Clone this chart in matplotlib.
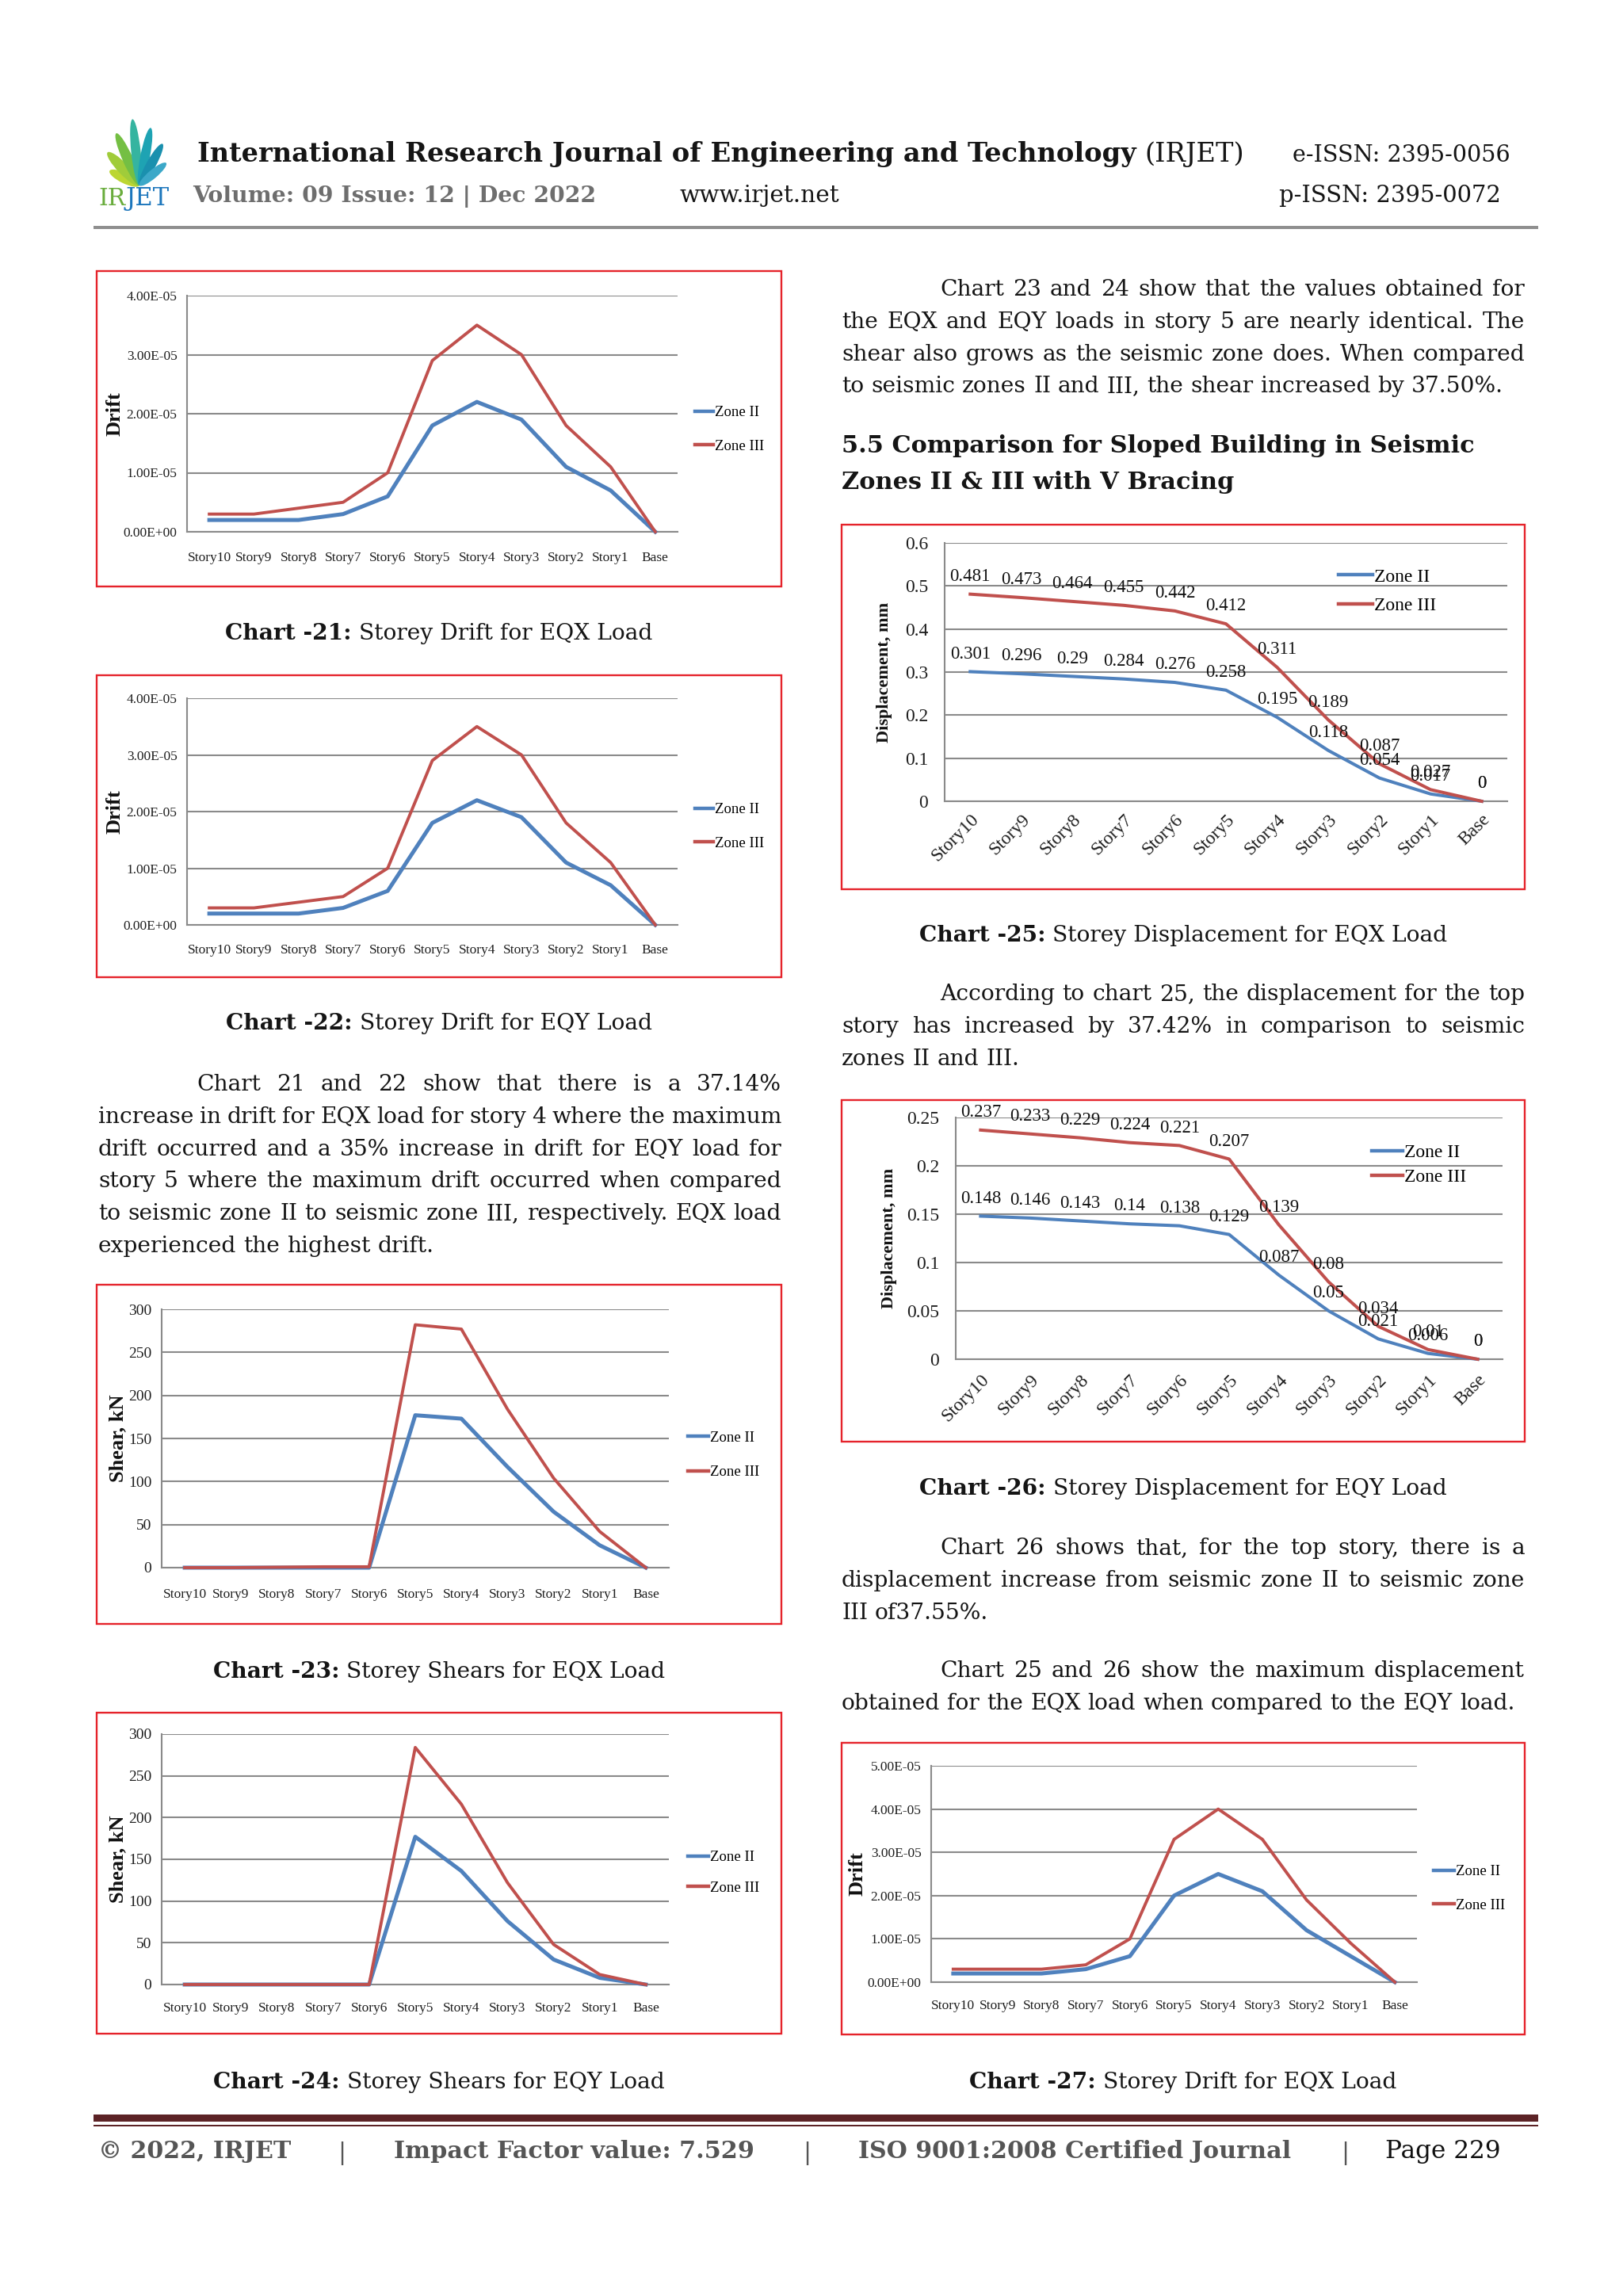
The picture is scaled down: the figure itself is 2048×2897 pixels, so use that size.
import numpy as np
import matplotlib.pyplot as plt
from matplotlib.patches import Rectangle, Ellipse
from matplotlib.lines import Line2D
from matplotlib.ticker import FuncFormatter

W, H = 2048, 2897

# ---- data read from the page ----
stories = ["Story10", "Story9", "Story8", "Story7", "Story6", "Story5",
           "Story4", "Story3", "Story2", "Story1", "Base"]
zones = ["Zone II", "Zone III"]

# Chart 21: storey drift, EQX
drift_eqx_z2 = [2e-6, 2e-6, 2e-6, 3e-6, 6e-6, 1.8e-5, 2.2e-5, 1.9e-5, 1.1e-5, 7e-6, 0]
drift_eqx_z3 = [3e-6, 3e-6, 4e-6, 5e-6, 1.0e-5, 2.9e-5, 3.5e-5, 3.0e-5, 1.8e-5, 1.1e-5, 0]
# Chart 22: storey drift, EQY
drift_eqy_z2 = [2e-6, 2e-6, 2e-6, 3e-6, 6e-6, 1.8e-5, 2.2e-5, 1.9e-5, 1.1e-5, 7e-6, 0]
drift_eqy_z3 = [3e-6, 3e-6, 4e-6, 5e-6, 1.0e-5, 2.9e-5, 3.5e-5, 3.0e-5, 1.8e-5, 1.1e-5, 0]
# Chart 23: storey shear, EQX (kN)
shear_eqx_z2 = [0, 0, 0, 0, 0, 177, 173, 117, 65, 26, 0]
shear_eqx_z3 = [0, 0, 0.5, 1, 1, 282, 277, 184, 104, 42, 0]
# Chart 24: storey shear, EQY (kN)
shear_eqy_z2 = [0, 0, 0, 0, 0, 177, 136, 76, 30, 8, 0]
shear_eqy_z3 = [0, 0, 0, 0, 0, 284, 216, 122, 48, 12, 0]
# Chart 25: storey displacement, EQX (mm)
disp_eqx_z2 = [0.301, 0.296, 0.29, 0.284, 0.276, 0.258, 0.195, 0.118, 0.054, 0.017, 0]
disp_eqx_z3 = [0.481, 0.473, 0.464, 0.455, 0.442, 0.412, 0.311, 0.189, 0.087, 0.027, 0]
# Chart 26: storey displacement, EQY (mm)
disp_eqy_z2 = [0.148, 0.146, 0.143, 0.14, 0.138, 0.129, 0.087, 0.05, 0.021, 0.006, 0]
disp_eqy_z3 = [0.237, 0.233, 0.229, 0.224, 0.221, 0.207, 0.139, 0.08, 0.034, 0.01, 0]
# Chart 27: storey drift, EQX (V bracing)
drift27_z2 = [2e-6, 2e-6, 2e-6, 3e-6, 6e-6, 2.0e-5, 2.5e-5, 2.1e-5, 1.2e-5, 6e-6, 0]
drift27_z3 = [3e-6, 3e-6, 3e-6, 4e-6, 1.0e-5, 3.3e-5, 4.0e-5, 3.3e-5, 1.9e-5, 9e-6, 0]

BLUE, RED = "#4F81BD", "#C0504D"
GRID = "#8A8A8A"
BORDER = "#E5232B"
INK = "#151515"
BODY = "DejaVu Serif"
XLS = "Liberation Serif"

fig = plt.figure(figsize=(W / 100, H / 100), dpi=100)
fig.patch.set_facecolor("white")
page = fig.add_axes([0, 0, 1, 1])
page.set_xlim(0, W)
page.set_ylim(H, 0)
page.axis("off")
rend = fig.canvas.get_renderer()


# ---- text helpers (page coordinates are pixels, y downwards) ----
def text(x, y, s, size, weight="normal", color=INK, family=BODY, ha="left"):
    return page.text(x, y, s, fontsize=size, fontweight=weight, color=color,
                     family=family, ha=ha, va="baseline")


def wid(t):
    return t.get_window_extent(rend).width


def space(size, weight="normal", family=BODY):
    a = text(0, 0, "a a", size, weight, family=family)
    b = text(0, 0, "aa", size, weight, family=family)
    w = wid(a) - wid(b)
    a.remove()
    b.remove()
    return w


def runs(x, y, parts, size, align="left", fit=None, family=BODY):
    ts = [text(0, y, s, size, wt, c, family) for s, wt, c in parts]
    if fit is not None:
        total = sum(wid(t) for t in ts) + space(size, family=family) * (len(ts) - 1)
        size = size * fit / total
        for t in ts:
            t.set_fontsize(size)
    sp = space(size, family=family)
    ws = [wid(t) for t in ts]
    total = sum(ws) + sp * (len(ts) - 1)
    x0 = x - total / 2 if align == "center" else x
    for t, w in zip(ts, ws):
        t.set_x(x0)
        x0 += w + sp
    return size


def paragraph(x0, x1, y, lines, size, indent, lead=40.8):
    sp = space(size)
    for i, ln in enumerate(lines):
        left = x0 + indent if i == 0 else x0
        ts = [text(0, y + i * lead, w, size) for w in ln.split()]
        ws = [wid(t) for t in ts]
        gap = sp
        if i < len(lines) - 1 and len(ts) > 1:
            gap = (x1 - left - sum(ws)) / (len(ts) - 1)
        xx = left
        for t, w in zip(ts, ws):
            t.set_x(xx)
            xx += w + gap


def sci(v, _):
    return f"{v:.2E}"


def gen(v, _):
    return f"{v:g}"


# ---- one Excel-style line chart in a red frame ----
def chart(box, area, z2, z3, ymax, nstep, fmt, ylabel, ylab_px, ylab_fs,
          tick_fs, xtick_fs, xpad, ypad, leg_x, leg_y, leg_pitch, leg_hl, leg_fs,
          lw=(3.6, 2.8), values=False, rot=0, val_fs=16):
    x0, y0, x1, y1 = box
    page.add_patch(Rectangle((x0, y0), x1 - x0, y1 - y0, fill=False, ec=BORDER, lw=1.7))
    l, t, r, b = area
    ax = fig.add_axes([l / W, 1 - b / H, (r - l) / W, (b - t) / H])
    ax.patch.set_alpha(0)
    xs = np.arange(len(stories))
    ax.plot(xs, z2, color=BLUE, lw=lw[0], clip_on=False, solid_joinstyle="round", zorder=3)
    ax.plot(xs, z3, color=RED, lw=lw[1], clip_on=False, solid_joinstyle="round", zorder=3)
    ax.set_xlim(-0.5, len(stories) - 0.5)
    ax.set_ylim(0, ymax)
    ax.set_yticks(np.linspace(0, ymax, nstep + 1))
    ax.yaxis.set_major_formatter(FuncFormatter(fmt))
    ax.grid(axis="y", color=GRID, lw=1.5)
    ax.set_axisbelow(True)
    for s in ["top", "right"]:
        ax.spines[s].set_visible(False)
    for s in ["left", "bottom"]:
        ax.spines[s].set_color(GRID)
        ax.spines[s].set_linewidth(1.5)
    ax.tick_params(length=0)
    ax.tick_params(axis="y", labelsize=tick_fs, pad=ypad, labelcolor="#1E1E1E")
    ax.tick_params(axis="x", labelsize=xtick_fs, pad=xpad, labelcolor="#1E1E1E")
    if rot:
        ax.set_xticks(xs, stories, rotation=rot, ha="right", rotation_mode="anchor")
    else:
        ax.set_xticks(xs, stories)
    for lab in ax.get_xticklabels() + ax.get_yticklabels():
        lab.set_family(XLS)
    ax.set_ylabel(ylabel, fontsize=ylab_fs, fontweight="bold", family=XLS, color="#111111")
    ax.yaxis.set_label_coords((ylab_px - l) / (r - l), 0.5)
    if values:
        for series in (z2, z3):
            for i, v in enumerate(series):
                ax.annotate(f"{v:g}", (i, v), xytext=(0, 16), textcoords="offset points",
                            ha="center", va="center", fontsize=val_fs, family=XLS,
                            color="#111111")
    handles = [Line2D([], [], color=BLUE, lw=3.2), Line2D([], [], color=RED, lw=3.2)]
    ls = (leg_pitch / 1.389) / leg_fs - 1.15
    fig.legend(handles, zones, loc="center left", bbox_to_anchor=(leg_x / W, 1 - leg_y / H),
               frameon=False, handlelength=leg_hl, handletextpad=0.1, labelspacing=ls,
               borderpad=0, borderaxespad=0, prop={"family": XLS, "size": leg_fs})
    return ax


# ---- header ----
leaves = [(-64, 42, 13, "#BCD632"), (-44, 58, 14, "#A0CC3A"), (-24, 72, 13, "#74BF43"),
          (-6, 84, 12, "#35B4A0"), (11, 74, 12, "#1EA3B3"), (29, 60, 12, "#1A90AE"),
          (50, 44, 11, "#3CA8C8")]
bx, by = 176, 234
for a, L, w, c in leaves:
    ra = np.radians(a)
    page.add_patch(Ellipse((bx + L / 2 * np.sin(ra), by - L / 2 * np.cos(ra)), w, L,
                           angle=a, color=c, lw=0))
runs(124, 259, [("IR", "normal", "#69AC3C")], 18, fit=34)
runs(158, 259, [("JET", "normal", "#1C76BC")], 18, fit=55)

runs(249, 204, [("International Research Journal of Engineering and Technology", "bold", INK),
                ("(IRJET)", "normal", INK)], 28, fit=1572 - 249)
runs(1631, 204, [("e-ISSN: 2395-0056", "normal", INK)], 20, fit=1906 - 1631)
runs(243, 255, [("Volume: 09 Issue: 12 | Dec 2022", "bold", "#6E6E6E")], 20, fit=750 - 243)
runs(857, 255, [("www.irjet.net", "normal", INK)], 20, fit=1059 - 857)
runs(1614, 255, [("p-ISSN: 2395-0072", "normal", INK)], 20, fit=1894 - 1614)
page.add_patch(Rectangle((118, 285), 1823, 3.5, color="#8F8F8F", lw=0))

# ---- body text size taken from a caption width ----
fs = runs(554, 807, [("Chart -21:", "bold", INK), ("Storey Drift for EQX Load", "normal", INK)],
          16, align="center", fit=540)
captions = [
    (554, 1299, "Chart -22:", "Storey Drift for EQY Load"),
    (554, 2117, "Chart -23:", "Storey Shears for EQX Load"),
    (554, 2635, "Chart -24:", "Storey Shears for EQY Load"),
    (1493, 1188, "Chart -25:", "Storey Displacement for EQX Load"),
    (1493, 1886, "Chart -26:", "Storey Displacement for EQY Load"),
    (1493, 2635, "Chart -27:", "Storey Drift for EQX Load"),
]
for cx, cy, lab, rest in captions:
    runs(cx, cy, [(lab, "bold", INK), (rest, "normal", INK)], fs, align="center")

paragraph(124, 986, 1376, [
    "Chart 21 and 22 show that there is a 37.14%",
    "increase in drift for EQX load for story 4 where the maximum",
    "drift occurred and a 35% increase in drift for EQY load for",
    "story 5 where the maximum drift occurred when compared",
    "to seismic zone II to seismic zone III, respectively. EQX load",
    "experienced the highest drift.",
], fs, 248 - 124)

paragraph(1062, 1924, 373, [
    "Chart 23 and 24 show that the values obtained for",
    "the EQX and EQY loads in story 5 are nearly identical. The",
    "shear also grows as the seismic zone does. When compared",
    "to seismic zones II and III, the shear increased by 37.50%.",
], fs, 1186 - 1062)

hs = runs(1062, 571, [("5.5 Comparison for Sloped Building in Seismic", "bold", INK)], 20,
          fit=1861 - 1062)
runs(1062, 617, [("Zones II & III with V Bracing", "bold", INK)], hs)

paragraph(1062, 1924, 1262, [
    "According to chart 25, the displacement for the top",
    "story has increased by 37.42% in comparison to seismic",
    "zones II and III.",
], fs, 1186 - 1062)

paragraph(1062, 1924, 1961, [
    "Chart 26 shows that, for the top story, there is a",
    "displacement increase from seismic zone II to seismic zone",
    "III of37.55%.",
], fs, 1186 - 1062)

paragraph(1062, 1924, 2116, [
    "Chart 25 and 26 show the maximum displacement",
    "obtained for the EQX load when compared to the EQY load.",
], fs, 1186 - 1062)

# ---- charts ----
chart((122, 342, 986, 740), (236, 373, 855, 671), drift_eqx_z2, drift_eqx_z3, 4e-5, 4, sci,
      "Drift", 157, 19, 12.5, 12.5, 18, 9, 877, 542, 47, 1.25, 13.5)
chart((122, 852, 986, 1233), (236, 881, 855, 1167), drift_eqy_z2, drift_eqy_z3, 4e-5, 4, sci,
      "Drift", 157, 19, 12.5, 12.5, 17, 9, 877, 1043, 47, 1.25, 13.5)
chart((122, 1621, 986, 2049), (204, 1652, 844, 1978), shear_eqx_z2, shear_eqx_z3, 300, 6, gen,
      "Shear, kN", 160, 19, 14, 12.5, 19, 9, 868, 1836, 48, 1.4, 13.5)
chart((122, 2161, 986, 2566), (204, 2188, 844, 2504), shear_eqy_z2, shear_eqy_z3, 300, 6, gen,
      "Shear, kN", 160, 19, 14, 12.5, 16, 9, 868, 2363, 43, 1.4, 13.5)
chart((1062, 662, 1924, 1122), (1192, 685, 1902, 1011), disp_eqx_z2, disp_eqx_z3, 0.6, 6, gen,
      "Displacement, mm", 1126, 16, 17, 17, 9, 15, 1689, 746, 42, 1.8, 17,
      lw=(2.9, 2.9), values=True, rot=45, val_fs=16.5)
chart((1062, 1388, 1924, 1819), (1206, 1410, 1896, 1715), disp_eqy_z2, disp_eqy_z3, 0.25, 5, gen,
      "Displacement, mm", 1132, 16, 17, 17, 11, 15, 1731, 1470, 37, 1.65, 17,
      lw=(2.9, 2.9), values=True, rot=45, val_fs=16.5)
chart((1062, 2199, 1924, 2567), (1175, 2228, 1788, 2501), drift27_z2, drift27_z3, 5e-5, 5, sci,
      "Drift", 1094, 19, 12.5, 12.5, 16, 9, 1809, 2383, 47, 1.4, 13.5)

# ---- footer ----
MAROON = "#5C2326"
page.add_patch(Rectangle((118, 2668), 1823, 9, color=MAROON, lw=0))
page.add_patch(Rectangle((118, 2681), 1823, 2.2, color=MAROON, lw=0))
FOOT = "#555555"
fz = runs(124, 2723, [("© 2022, IRJET", "bold", FOOT)], 24, fit=368 - 124)
runs(497, 2723, [("Impact Factor value: 7.529", "bold", FOOT)], 24, fit=952 - 497)
runs(1083, 2723, [("ISO 9001:2008 Certified Journal", "bold", FOOT)], 24, fit=1632 - 1083)
runs(1748, 2723, [("Page 229", "normal", "#111111")], 24, fit=1894 - 1748)
for px in (431, 1018, 1697):
    text(px, 2725, "|", fz, color=FOOT, ha="center")

fig.savefig("out.png", dpi=100)
